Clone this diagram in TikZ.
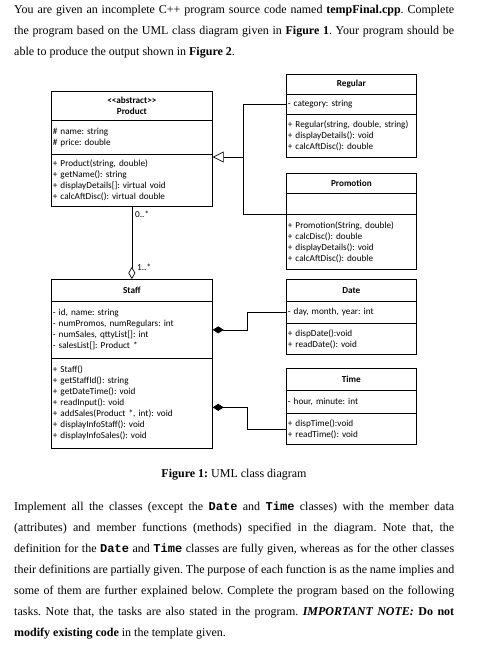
\documentclass[tikz,border=0pt]{standalone}
\usepackage{fontspec}
\setmainfont{Liberation Serif}
\setmonofont{Liberation Mono}
\newfontfamily\umlfont{Carlito}
\usetikzlibrary{arrows.meta}
\frenchspacing
\begin{document}
\begin{tikzpicture}[x=1pt,y=-1pt,
  comp/.style={draw=black, line width=0.7pt, anchor=north west, inner xsep=1.5pt, inner ysep=0pt,
    font=\umlfont\fontsize{9.2}{11}\selectfont\frenchspacing, align=left},
  ttl/.style={comp, align=center, font=\umlfont\bfseries\fontsize{9.2}{10.5}\selectfont},
  lw/.style={text width=158pt},
  rw/.style={text width=127pt},
  conn/.style={draw=black, line width=0.7pt},
  mult/.style={font=\umlfont\fontsize{9.2}{10}\selectfont, inner sep=0pt, anchor=west},
  body/.style={font=\fontsize{12}{14}\selectfont\frenchspacing, inner sep=0pt, anchor=base west},
]
\useasboundingbox (0,0) rectangle (488,647);
\fill[white] (0,0) rectangle (488,647);

% ---------- top paragraph
\node[body] (t1) at (14,14) {\makebox[440pt][s]{You are given an incomplete C++ program source code named \textbf{tempFinal.cpp}. Complete}};
\node[body] (t2) at (14,35) {\makebox[440pt][s]{the program based on the UML class diagram given in \textbf{Figure 1}. Your program should be}};
\node[body] (t3) at (14,55.5) {able to produce the output shown in \textbf{Figure 2}.};

% ---------- Product
\node[ttl, lw, minimum height=29pt] (prodT) at (51,91) {<\kern0pt<abstract>\kern0pt>\\Product};
\node[comp, lw, minimum height=34pt] (prodA) at (51,120) {\# name: string\\\# price: double};
\node[comp, lw, minimum height=52pt] (prodM) at (51,154) {+ Product(string, double)\\+ getName(): string\\+ displayDetails[]: virtual void\\+ calcAftDisc(): virtual double};

% ---------- Regular
\node[ttl, rw, minimum height=20pt] (regT) at (286,74) {Regular};
\node[comp, rw, minimum height=20pt] (regA) at (286,94) {- category: string};
\node[comp, rw, minimum height=43pt] (regM) at (286,114) {+ Regular(string, double, string)\\+ displayDetails(): void\\+ calcAftDisc(): double};

% ---------- Promotion
\node[ttl, rw, minimum height=20pt] (proT) at (286,173) {Promotion};
\node[comp, rw, minimum height=21pt] (proA) at (286,193) {};
\node[comp, rw, minimum height=55pt] (proM) at (286,214) {+ Promotion(String, double)\\+ calcDisc(): double\\+ displayDetails(): void\\+ calcAftDisc(): double};

% ---------- Staff
\node[ttl, lw, minimum height=22pt] (stT) at (51,279) {Staff};
\node[comp, lw, minimum height=57pt] (stA) at (51,301) {- id, name: string\\- numPromos, numRegulars: int\\- numSales, qttyList[]: int\\- salesList[]: Product *};
\node[comp, lw, minimum height=90pt] (stM) at (51,358) {+ Staff()\\+ getStaffId(): string\\+ getDateTime(): void\\+ readInput(): void\\+ addSales(Product *, int): void\\+ displayInfoStaff(): void\\+ displayInfoSales(): void};

% ---------- Date
\node[ttl, rw, minimum height=22pt] (daT) at (286,279) {Date};
\node[comp, rw, minimum height=22pt] (daA) at (286,301) {- day, month, year: int};
\node[comp, rw, minimum height=31pt] (daM) at (286,323) {+ dispDate():void\\+ readDate(): void};

% ---------- Time
\node[ttl, rw, minimum height=22pt] (tiT) at (286,368) {Time};
\node[comp, rw, minimum height=23pt] (tiA) at (286,390) {- hour, minute: int};
\node[comp, rw, minimum height=31pt] (tiM) at (286,413) {+ dispTime():void\\+ readTime(): void};

% ---------- inheritance
\coordinate (J) at (243,157);
\draw[conn] (regA.west) -| (J);
\draw[conn] (proM.north west) -| (J);
\draw[conn, -{Triangle[open, length=11pt, width=11pt]}] (J) -- (J -| prodM.east);

% ---------- aggregation
\draw[conn, -{Diamond[open, length=12pt, width=7pt]}] (prodM.south) -- (stT.north);
\node[mult] (m1) at (135,214) {0..*};
\node[mult] (m2) at (137,267) {1..*};

% ---------- composition
\coordinate (K) at (247,0);
\draw[conn, {Diamond[fill=black, length=11pt, width=7pt]}-] (stA.east) -- (stA.east -| K) |- (daA.west);
\draw[conn, {Diamond[fill=black, length=11pt, width=7pt]}-] ([yshift=-4pt]stM.east) -- ([yshift=-4pt]stM.east -| K) |- (tiM.west);

% ---------- caption
\node[body, anchor=base] (cap) at (234,477) {\textbf{Figure 1:} UML class diagram};

% ---------- lower paragraph
\node[body] (p1) at (14,510) {\makebox[440pt][s]{Implement all the classes (except the \texttt{\textbf{Date}} and \texttt{\textbf{Time}} classes) with the member data}};
\node[body] (p2) at (14,531) {\makebox[440pt][s]{(attributes) and member functions (methods) specified in the diagram. Note that, the}};
\node[body] (p3) at (14,552) {\makebox[440pt][s]{definition for the \texttt{\textbf{Date}} and \texttt{\textbf{Time}} classes are fully given, whereas as for the other classes}};
\node[body] (p4) at (14,573) {\makebox[440pt][s]{their definitions are partially given. The purpose of each function is as the name implies and}};
\node[body] (p5) at (14,594) {\makebox[440pt][s]{some of them are further explained below. Complete the program based on the following}};
\node[body] (p6) at (14,615) {\makebox[440pt][s]{tasks. Note that, the tasks are also stated in the program. \textbf{\textit{IMPORTANT NOTE:}} \textbf{Do not}}};
\node[body] (p7) at (14,636) {\textbf{modify existing code} in the template given.};
\end{tikzpicture}
\end{document}
